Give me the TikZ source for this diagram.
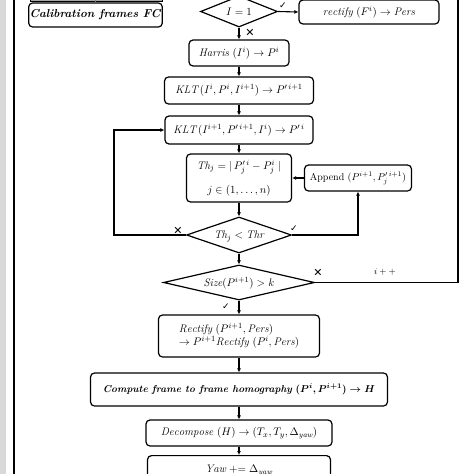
\documentclass[tikz,border=0pt]{standalone}
\usepackage{fontspec}
\usepackage{amsmath}
\newfontfamily\mksym{DejaVu Sans}
\usetikzlibrary{shapes.geometric,arrows.meta}
\newcommand{\ztext}[1]{\smash{\makebox[0pt]{#1}}}
\begin{document}
\begin{tikzpicture}[x=1pt,y=-1pt,
  fbox/.style={draw, line width=1.2pt, rounded corners=4pt, inner sep=1pt, align=center, font=\fontsize{11}{13}\selectfont},
  fdia/.style={draw, shape=diamond, line width=1.2pt, inner sep=0pt, font=\fontsize{11}{13}\selectfont},
  arr/.style={line width=1.1pt, -{Latex[length=4pt,width=4pt]}},
  lnk/.style={line width=1.1pt},
  mk/.style={font=\mksym\fontsize{9}{10}\selectfont, inner sep=0pt},
  xk/.style={font=\mksym\bfseries\fontsize{11}{12}\selectfont, inner sep=0pt}]
\useasboundingbox (0,0) rectangle (474,474);
\fill[gray!30] (0,-1) rectangle (6,475);
\fill[gray!70, draw=black, line width=0.8pt] (30,-10) rectangle (162,1.5);
\draw[line width=0.6pt, gray] (95,-10) -- (95,1.5);
\node[fbox, minimum width=133pt, minimum height=24pt, font=\fontsize{11.5}{13}\selectfont] (cal) at (95.5,15) {\textbf{\textit{Calibration frames FC}}};
\node[fdia, minimum width=77pt, minimum height=31pt] (d1) at (239,11.5) {\ztext{\raisebox{-3.5pt}{$I=1$}}};
\node[fbox, minimum width=140pt, minimum height=24pt] (rect) at (369,12) {$\mathit{rectify}\ (F^i)\rightarrow \mathit{Pers}$};
\node[fbox, minimum width=100pt, minimum height=26pt] (harris) at (239,53) {$\mathit{Harris}\ (I^i)\rightarrow P^i$};
\node[fbox, minimum width=149pt, minimum height=27pt] (klt1) at (239,90.5) {$\mathit{KLT}\,(I^i,P^i,I^{i+1})\rightarrow P'^{\,i+1}$};
\node[fbox, minimum width=148pt, minimum height=28pt] (klt2) at (239,130) {$\mathit{KLT}\,(I^{i+1},P'^{\,i+1},I^i)\rightarrow P'^{\,i}$};
\node[fbox, minimum width=105pt, minimum height=48pt] (th) at (239,178) {$\mathit{Th}_j=|\,P'^{\,i}_j-P^i_j\;|$\\[11pt]$j\in(1,\ldots,n)$};
\node[fbox, minimum width=107pt, minimum height=26pt, font=\fontsize{10}{12}\selectfont] (app) at (358,178) {Append $(P^{i+1},P'^{\,i+1}_j)$};
\node[fdia, minimum width=105pt, minimum height=36pt] (d2) at (239,235) {\ztext{\raisebox{-3.5pt}{$\mathit{Th}_j<\mathit{Thr}$}}};
\node[fdia, minimum width=151pt, minimum height=35pt] (d3) at (239,282.5) {\ztext{\raisebox{-3.5pt}{$\mathit{Size}(P^{i+1})>k$}}};
\node[fbox, minimum width=161pt, minimum height=42pt, align=left] (rect2) at (239,336) {$\mathit{Rectify}\ (P^{i+1},\mathit{Pers})$\\$\rightarrow P^{i+1}\mathit{Rectify}\ (P^i,\mathit{Pers})$};
\node[fbox, minimum width=297pt, minimum height=33pt, font=\fontsize{10}{12}\selectfont] (comp) at (239,389.5) {\raisebox{3pt}{\textbf{\textit{Compute frame to frame homography}} $\boldsymbol{(P^i,P^{i+1})\rightarrow H}$}};
\node[fbox, minimum width=186pt, minimum height=26pt] (decomp) at (239,433) {$\mathit{Decompose}\ (H)\rightarrow(T_x,T_y,\Delta_{\mathit{yaw}})$};
\node[fbox, minimum width=183pt, minimum height=34pt, anchor=north] (yaw) at (239,455) {\raisebox{8pt}{$\mathit{Yaw}\mathrel{+}=\Delta_{\mathit{yaw}}$}};
\draw[arr] (d1.east) -- (rect.west);
\draw[arr] (d1.south) -- (harris.north);
\draw[arr] (harris.south) -- (klt1.north);
\draw[arr] (klt1.south) -- (klt2.north);
\draw[arr] (klt2.south) -- (th.north);
\draw[arr] (th.south) -- (d2.north);
\draw[arr] (app.west) -- (th.east |- app.west);
\draw[arr] (d2.east) -| (app.south);
\coordinate (lp) at (114,235);
\draw[arr] (d2.west) -- (lp) |- (klt2.west);
\draw[arr] (d2.south) -- (d3.north);
\coordinate (rp) at (458,282.5);
\coordinate (rtop) at (458,-5);
\draw[lnk] (d3.east) -- (rp) -- (rtop);
\draw[arr] (d3.south) -- (rect2.north);
\draw[arr] (rect2.south) -- (comp.north);
\draw[arr] (comp.south) -- (decomp.north);
\draw[arr] (decomp.south) -- (yaw.north);
\coordinate (ltop) at (14,-5);
\coordinate (lbot) at (14,480);
\draw[line width=1.6pt] (ltop) -- (lbot);
\node[mk] (m1) at (283,6) {✓};
\node[xk] (m2) at (250,33) {✕};
\node[xk] (m3) at (178,231) {✕};
\node[mk] (m4) at (294,229) {✓};
\node[xk] (m5) at (318,273) {✕};
\node[font=\fontsize{9}{10}\selectfont] (inc) at (385,272) {$i++$};
\node[mk] (m6) at (226,307) {✓};
\end{tikzpicture}
\end{document}
